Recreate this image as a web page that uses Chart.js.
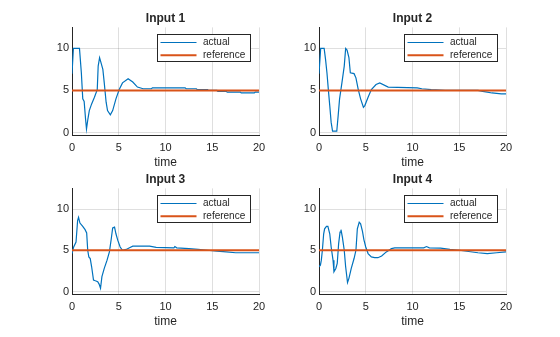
<!DOCTYPE html>
<html>
<head>
<meta charset="utf-8">
<script src="https://cdn.jsdelivr.net/npm/chart.js@4.4.1/dist/chart.umd.min.js"></script>
<style>
  html, body { margin: 0; padding: 0; background: #fff; }
  body { width: 560px; height: 337px; position: relative; overflow: hidden; }
  canvas { position: absolute; }
</style>
</head>
<body>
<canvas id="input1" width="255" height="170" style="left:20px;top:0px"></canvas>
<canvas id="input2" width="255" height="170" style="left:267px;top:0px"></canvas>
<canvas id="input3" width="255" height="168" style="left:20px;top:161px"></canvas>
<canvas id="input4" width="255" height="168" style="left:267px;top:161px"></canvas>
<script>
// --------------------- Data ---------------------
const xTicks = [0, 5, 10, 15, 20];
const yTicks = [0, 5, 10];
const yMin = -0.3;
const yMax = 12.5;
const refValue = 5;
const titles = ["Input 1", "Input 2", "Input 3", "Input 4"];

const time1 = [0, 0.15, 0.8, 1.0, 1.15, 1.3, 1.45, 1.55, 1.7, 1.85, 2.1, 2.4, 2.7, 2.8, 2.95, 3.1, 3.3, 3.45, 3.65, 3.8, 4.1, 4.35, 4.7, 5.05, 5.4, 6.0, 6.5, 7.0, 7.6, 8.5, 8.6, 12.1, 12.2, 13.3, 13.4, 14.5, 14.6, 15.5, 15.6, 16.5, 16.6, 18.0, 18.1, 19.5, 19.6, 20];
const actual1 = [7.0, 10, 10, 7.1, 4.0, 3.7, 1.6, 0.4, 1.6, 2.6, 3.4, 4.2, 5.1, 7.9, 8.9, 8.3, 7.5, 5.9, 3.6, 2.6, 2.1, 2.6, 4.0, 5.1, 5.9, 6.4, 6.0, 5.4, 5.2, 5.2, 5.3, 5.3, 5.2, 5.2, 5.1, 5.1, 5.0, 5.0, 4.9, 4.9, 4.8, 4.8, 4.7, 4.7, 4.8, 4.8];

const time2 = [0, 0.18, 0.55, 0.7, 0.85, 1.0, 1.15, 1.3, 1.45, 1.9, 2.05, 2.2, 2.45, 2.7, 2.85, 3.0, 3.2, 3.35, 3.75, 3.95, 4.2, 4.45, 4.75, 4.9, 5.25, 5.6, 6.1, 6.5, 7.4, 10.5, 11, 12, 13.5, 17, 17.5, 18, 18.5, 19.5, 20];
const actual2 = [7.0, 10, 10, 8.7, 7.1, 5.1, 3.2, 1.2, 0.15, 0.15, 2.0, 4.0, 5.9, 7.9, 10, 9.8, 8.9, 7.1, 7.0, 6.5, 5.1, 4.0, 3.0, 3.2, 4.2, 5.1, 5.7, 5.9, 5.4, 5.3, 5.2, 5.1, 5.0, 5.0, 4.9, 4.8, 4.7, 4.6, 4.6];

const time3 = [0, 0.18, 0.43, 0.6, 0.7, 0.85, 1.15, 1.4, 1.57, 1.68, 1.8, 1.95, 2.1, 2.3, 2.5, 2.75, 2.9, 3.05, 3.2, 3.45, 3.75, 4.0, 4.2, 4.35, 4.55, 4.7, 4.9, 5.15, 5.4, 5.8, 6.15, 6.5, 8.3, 9.0, 10.9, 11.0, 11.2, 12.5, 13.5, 14.5, 15.5, 16.5, 17.5, 20];
const actual3 = [4.6, 5.4, 6.0, 8.6, 9.0, 8.3, 7.9, 7.5, 7.1, 5.0, 4.2, 4.0, 3.0, 1.4, 1.3, 1.2, 0.9, 0.4, 1.8, 2.8, 3.8, 4.8, 6.4, 7.7, 7.8, 7.0, 6.2, 5.4, 5.0, 5.1, 5.3, 5.5, 5.5, 5.35, 5.3, 5.45, 5.3, 5.2, 5.1, 5.0, 4.9, 4.8, 4.7, 4.7];

const time4 = [0, 0.15, 0.25, 0.36, 0.5, 0.6, 0.8, 0.95, 1.15, 1.3, 1.5, 1.6, 1.8, 1.95, 2.1, 2.25, 2.35, 2.5, 2.7, 2.85, 3.05, 3.2, 3.45, 3.75, 3.95, 4.1, 4.3, 4.45, 4.65, 4.8, 5.0, 5.25, 5.6, 5.95, 6.3, 6.7, 7.2, 7.75, 8.1, 11.2, 11.5, 11.8, 13, 14, 15, 16, 17, 18, 19, 20];
const actual4 = [3.0, 3.2, 3.8, 5.0, 7.0, 7.6, 7.9, 7.9, 7.0, 5.4, 3.8, 2.4, 2.8, 3.4, 5.8, 7.2, 7.5, 6.6, 5.0, 3.0, 1.1, 1.6, 2.8, 4.0, 5.0, 7.6, 8.4, 8.2, 7.3, 6.3, 5.4, 4.6, 4.2, 4.1, 4.1, 4.3, 4.8, 5.2, 5.3, 5.3, 5.45, 5.3, 5.25, 5.1, 5.0, 4.85, 4.7, 4.6, 4.7, 4.8];

const times = [time1, time2, time3, time4];
const actuals = [actual1, actual2, actual3, actual4];

// --------------------- Style ---------------------
const FONT = '"Liberation Sans", Arial, Helvetica, sans-serif';
const TEXT = "#262626";
const BLUE = "#0072BD";
const ORANGE = "#D95319";
const GRID = "rgba(38,38,38,0.15)";

Chart.defaults.font.family = FONT;
Chart.defaults.color = TEXT;

// legend drawn inside the plot, top right, with a box round it
const boxLegend = {
  id: "boxLegend",
  afterDatasetsDraw(chart) {
    const { ctx, chartArea } = chart;
    const w = 94, h = 28;
    const x = Math.round(chartArea.right - 8 - w);
    const y = Math.round(chartArea.top + 7);
    ctx.save();
    ctx.fillStyle = "#fff";
    ctx.fillRect(x, y, w, h);
    ctx.strokeStyle = TEXT;
    ctx.lineWidth = 1;
    ctx.strokeRect(x + 0.5, y + 0.5, w - 1, h - 1);
    ctx.font = "10px " + FONT;
    ctx.textBaseline = "middle";
    chart.data.datasets.forEach((ds, i) => {
      const cy = y + 8.5 + i * 12.7;
      ctx.strokeStyle = ds.borderColor;
      ctx.lineWidth = ds.borderWidth;
      ctx.beginPath();
      ctx.moveTo(x + 3.5, cy);
      ctx.lineTo(x + 39.5, cy);
      ctx.stroke();
      ctx.fillStyle = TEXT;
      ctx.fillText(ds.label, x + 46, cy);
    });
    ctx.restore();
  }
};

function makeChart(id, idx) {
  const t = times[idx];
  const v = actuals[idx];
  new Chart(document.getElementById(id), {
    type: "line",
    data: {
      datasets: [
        {
          label: "actual",
          data: t.map((tt, i) => ({ x: tt, y: v[i] })),
          borderColor: BLUE,
          borderWidth: 1.2,
          pointRadius: 0,
          tension: 0,
          order: 1
        },
        {
          label: "reference",
          data: [{ x: xTicks[0], y: refValue }, { x: xTicks[xTicks.length - 1], y: refValue }],
          borderColor: ORANGE,
          borderWidth: 2,
          pointRadius: 0,
          order: 0
        }
      ]
    },
    options: {
      responsive: false,
      animation: false,
      layout: { padding: { left: 0, right: 16, top: 0, bottom: 0 } },
      plugins: {
        legend: { display: false },
        tooltip: { enabled: false },
        title: {
          display: true,
          text: titles[idx],
          fullSize: false,
          color: TEXT,
          font: { size: 12, weight: "bold", family: FONT },
          padding: { top: 11, bottom: 2 }
        }
      },
      scales: {
        x: {
          type: "linear",
          min: xTicks[0],
          max: xTicks[xTicks.length - 1],
          afterBuildTicks: (s) => { s.ticks = xTicks.map((val) => ({ value: val })); },
          afterFit: (s) => { s.height = 35; },
          grid: { color: GRID, drawTicks: false },
          border: { display: true, color: TEXT, width: 1 },
          ticks: { padding: 6, color: TEXT, font: { size: 11 }, maxRotation: 0 },
          title: { display: true, text: "time", color: TEXT, font: { size: 12 }, padding: { top: 0, bottom: 0 } }
        },
        y: {
          type: "linear",
          min: yMin,
          max: yMax,
          afterBuildTicks: (s) => { s.ticks = yTicks.map((val) => ({ value: val })); },
          afterFit: (s) => { s.width = 52; },
          grid: { color: GRID, drawTicks: false },
          border: { display: true, color: TEXT, width: 1 },
          ticks: { padding: 3, color: TEXT, font: { size: 11 } }
        }
      }
    },
    plugins: [boxLegend]
  });
}

makeChart("input1", 0);
makeChart("input2", 1);
makeChart("input3", 2);
makeChart("input4", 3);
</script>
</body>
</html>
